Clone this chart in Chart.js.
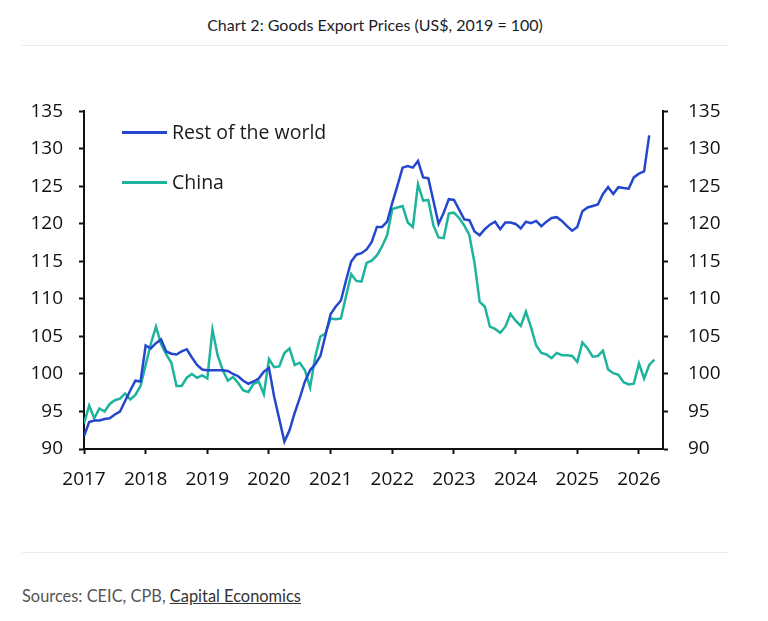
<!DOCTYPE html>
<html>
<head>
<meta charset="utf-8">
<script src="https://cdn.jsdelivr.net/npm/chart.js@4"></script>
<style>
  html, body { margin: 0; padding: 0; background: #fff; }
  body { width: 768px; height: 621px; position: relative; overflow: hidden; }
  #title {
    position: absolute; left: 0; width: 750px; top: 15px; text-align: center;
    font-family: Lato, sans-serif; font-size: 16px; color: #1c1c28;
  }
  .rule { position: absolute; left: 22px; width: 706px; height: 1px; background: #ececec; }
  #wrap { position: absolute; left: 0; top: 80px; width: 768px; height: 420px; }
  .key { position: absolute; font-family: "Open Sans", sans-serif; font-size: 19.5px; color: #1a1a1a; line-height: 20px; }
  .keyline { position: absolute; left: 122px; width: 45px; height: 2.5px; }
  #sources {
    position: absolute; left: 22px; top: 586px;
    font-family: Lato, sans-serif; font-size: 16.4px; color: #555;
  }
  #sources span { color: #333; text-decoration: underline; }
</style>
</head>
<body>
<div id="title">Chart 2: Goods Export Prices (US$, 2019 = 100)</div>
<div class="rule" style="top:45px"></div>

<div id="wrap"><canvas id="grafico" width="768" height="420"></canvas></div>

<div class="keyline" style="top:131px; background:#2447cc"></div>
<div class="key" style="left:172px; top:122px">Rest of the world</div>
<div class="keyline" style="top:181px; background:#1db39c"></div>
<div class="key" style="left:172px; top:172px">China</div>

<div class="rule" style="top:552px"></div>
<div id="sources">Sources: CEIC, CPB, <span>Capital Economics</span></div>

<script>
// monthly data, first point = Jan 2017
const startYear = 2017;
const yearTicks = [2017, 2018, 2019, 2020, 2021, 2022, 2023, 2024, 2025, 2026];
const valueTicks = [90, 95, 100, 105, 110, 115, 120, 125, 130, 135];

const restOfWorld = [
  91.7, 93.6, 93.8, 93.8, 94.0, 94.1, 94.6, 95.0, 96.4, 97.8, 99.1, 99.0,
  103.8, 103.4, 104.1, 104.6, 103.0, 102.7, 102.6, 103.0, 103.3, 102.2, 101.2, 100.6,
  100.5, 100.5, 100.5, 100.5, 100.4, 100.0, 99.7, 99.1, 98.7, 99.0, 99.4, 100.3,
  100.8, 97.0, 94.0, 91.0, 92.5, 94.8, 96.8, 99.0, 100.5, 101.3, 102.4, 105.2,
  108.0, 109.0, 109.8, 112.5, 115.0, 115.9, 116.1, 116.6, 117.6, 119.6, 119.6, 120.3,
  122.8, 125.1, 127.5, 127.7, 127.5, 128.4, 126.2, 126.1, 123.1, 120.0, 121.5, 123.3,
  123.2, 121.9, 120.6, 120.5, 119.0, 118.5, 119.3, 119.9, 120.3, 119.3, 120.2, 120.2,
  120.0, 119.4, 120.3, 120.1, 120.4, 119.7, 120.3, 120.8, 120.9, 120.4, 119.7, 119.1,
  119.6, 121.7, 122.2, 122.4, 122.6, 124.0, 124.9, 124.0, 124.9, 124.8, 124.7, 126.2,
  126.7, 127.0, 131.8
];

const china = [
  93.4, 95.8, 94.1, 95.4, 95.0, 96.0, 96.5, 96.7, 97.4, 96.6, 97.2, 98.4,
  101.2, 104.0, 106.3, 104.0, 102.6, 101.5, 98.4, 98.4, 99.5, 100.0, 99.5, 99.8,
  99.4, 105.9, 102.5, 100.5, 99.1, 99.6, 98.8, 97.8, 97.6, 98.7, 99.0, 97.3,
  102.0, 100.9, 101.0, 102.8, 103.4, 101.2, 101.5, 100.5, 98.2, 102.3, 105.0, 105.4,
  107.4, 107.3, 107.4, 110.4, 113.3, 112.4, 112.3, 114.8, 115.1, 115.8, 117.0, 118.5,
  122.0, 122.2, 122.4, 120.2, 119.6, 125.3, 123.1, 123.2, 119.8, 118.2, 118.1, 121.4,
  121.5, 120.8, 119.8, 118.5, 114.8, 109.6, 109.0, 106.3, 106.0, 105.5, 106.3, 108.0,
  107.1, 106.4, 108.3, 106.2, 103.8, 102.8, 102.6, 102.1, 102.8, 102.5, 102.5, 102.4,
  101.6, 104.2, 103.4, 102.3, 102.4, 103.1, 100.6, 100.1, 99.9, 98.9, 98.6, 98.7,
  101.4, 99.4, 101.2, 101.9
];

const toPoints = (arr) => arr.map((v, i) => ({ x: startYear + i / 12, y: v }));

const tickFont = { family: '"Open Sans", sans-serif', size: 19 };

function yAxis(position, width, pad) {
  return {
    type: 'linear',
    position: position,
    min: 90,
    max: 135,
    afterBuildTicks: (s) => { s.ticks = valueTicks.map(v => ({ value: v })); },
    afterFit: (s) => { s.width = width; },
    ticks: { font: tickFont, color: '#111', padding: pad },
    grid: { drawOnChartArea: false, tickLength: 5, tickWidth: 2, color: '#111' },
    border: { display: true, color: '#111', width: 2 }
  };
}

new Chart(document.getElementById('grafico'), {
  type: 'line',
  data: {
    datasets: [
      { label: 'Rest of the world', data: toPoints(restOfWorld), borderColor: '#2447cc', borderWidth: 2.5, pointRadius: 0, tension: 0 },
      { label: 'China', data: toPoints(china), borderColor: '#1db39c', borderWidth: 2.5, pointRadius: 0, tension: 0 }
    ]
  },
  options: {
    responsive: false,
    devicePixelRatio: 1,
    animation: false,
    layout: { padding: { top: 25, left: 0, right: 0, bottom: 0 } },
    plugins: { legend: { display: false }, tooltip: { enabled: false } },
    scales: {
      x: {
        type: 'linear',
        min: 2017,
        max: 2026.39,
        afterBuildTicks: (s) => { s.ticks = yearTicks.map(v => ({ value: v })); },
        afterFit: (s) => { s.height = 51; },
        ticks: { font: tickFont, color: '#111', padding: 14, maxRotation: 0, callback: (v) => String(v) },
        grid: { drawOnChartArea: false, tickLength: 5, tickWidth: 2, color: '#111' },
        border: { display: true, color: '#111', width: 2 }
      },
      y: yAxis('left', 84, 16),
      y2: yAxis('right', 105, 20)
    }
  }
});
</script>
</body>
</html>
